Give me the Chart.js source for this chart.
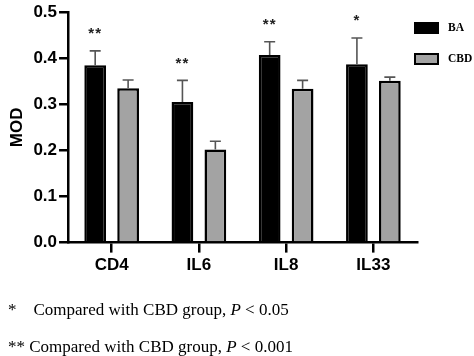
<!DOCTYPE html>
<html>
<head>
<meta charset="utf-8">
<script src="https://cdn.jsdelivr.net/npm/chart.js@4.4.0/dist/chart.umd.min.js"></script>
<style>
  html, body { margin: 0; padding: 0; background: #fff; }
  #wrap { position: relative; width: 474px; height: 356px; overflow: hidden; }
  #chart { position: absolute; left: 0; top: 0; }
  .legend { position: absolute; left: 414px; font-family: 'Liberation Serif', 'Times New Roman', serif; font-weight: bold; font-size: 11.5px; color: #000; }
  .legend .item { position: absolute; left: 0; white-space: nowrap; height: 12px; }
  .legend .box { position: absolute; left: 0; top: 0; width: 25px; height: 12px; box-sizing: border-box; border: 2px solid #000; }
  .legend .lbl { position: absolute; left: 34px; top: -1px; line-height: 13px; }
  .note { position: absolute; left: 8px; font-family: 'Liberation Serif', 'Times New Roman', serif; font-size: 17px; color: #000; white-space: pre; }
</style>
</head>
<body>
<div id="wrap">
  <canvas id="chart" width="474" height="356"></canvas>
  <div class="legend" id="legend"></div>
  <div class="note" id="note1" style="top:300px;"></div>
  <div class="note" id="note2" style="top:337px;"></div>
</div>
<script>
const categories = ['CD4', 'IL6', 'IL8', 'IL33'];
const baValues = [0.385, 0.305, 0.407, 0.387];
const baErrors = [0.031, 0.047, 0.029, 0.057];
const cbdValues = [0.335, 0.202, 0.334, 0.351];
const cbdErrors = [0.018, 0.018, 0.018, 0.008];
const significance = ['**', '**', '**', '*'];
const yTickValues = [0.0, 0.1, 0.2, 0.3, 0.4, 0.5];
const seriesNames = ['BA', 'CBD'];
const seriesColors = ['#000000', '#a3a3a3'];
const yTitle = 'MOD';
const footnote1 = ['*', '    Compared with CBD group, ', 'P', ' < 0.05'];
const footnote2 = ['**', ' Compared with CBD group, ', 'P', ' < 0.001'];

const errorArrays = [baErrors, cbdErrors];

const errorBarPlugin = {
  id: 'errorBars',
  afterDatasetsDraw(chart) {
    const ctx = chart.ctx;
    const y = chart.scales.y;
    ctx.save();
    ctx.strokeStyle = '#555555';
    ctx.lineWidth = 1.6;
    chart.data.datasets.forEach((ds, di) => {
      const meta = chart.getDatasetMeta(di);
      meta.data.forEach((bar, i) => {
        const top = y.getPixelForValue(ds.data[i]);
        const errTop = y.getPixelForValue(ds.data[i] + errorArrays[di][i]);
        ctx.beginPath();
        ctx.moveTo(bar.x, top);
        ctx.lineTo(bar.x, errTop);
        ctx.moveTo(bar.x - 5.5, errTop);
        ctx.lineTo(bar.x + 5.5, errTop);
        ctx.stroke();
      });
    });
    // significance stars above BA bars
    const meta0 = chart.getDatasetMeta(0);
    ctx.fillStyle = '#222';
    ctx.font = 'bold 15px "Liberation Sans", Arial, sans-serif';
    if ('letterSpacing' in ctx) ctx.letterSpacing = '1px';
    ctx.textAlign = 'center';
    ctx.textBaseline = 'middle';
    meta0.data.forEach((bar, i) => {
      const errTop = y.getPixelForValue(baValues[i] + baErrors[i]);
      ctx.fillText(significance[i], bar.x, errTop - 17);
    });
    ctx.restore();
  }
};

const chart = new Chart(document.getElementById('chart'), {
  type: 'bar',
  data: {
    labels: categories,
    datasets: [
      { label: seriesNames[0], data: baValues, backgroundColor: seriesColors[0], borderColor: '#000', borderWidth: 2.5 },
      { label: seriesNames[1], data: cbdValues, backgroundColor: seriesColors[1], borderColor: '#000', borderWidth: 2.5 }
    ]
  },
  options: {
    responsive: false,
    animation: false,
    devicePixelRatio: 1,
    layout: { padding: { left: 7, right: 57, top: 6, bottom: 77 } },
    datasets: { bar: { categoryPercentage: 0.755, barPercentage: 0.66 } },
    plugins: {
      legend: { display: false },
      tooltip: { enabled: false }
    },
    scales: {
      x: {
        grid: { display: true, drawOnChartArea: false, drawTicks: true, tickLength: 10, color: '#000', lineWidth: 2.5, offset: false },
        border: { display: true, color: '#000', width: 2.5 },
        ticks: { color: '#000', font: { family: '"Liberation Sans", Arial, sans-serif', size: 17, weight: 'bold' }, padding: 3 }
      },
      y: {
        min: 0, max: 0.5,
        afterBuildTicks(axis) { axis.ticks = yTickValues.map(v => ({ value: v })); },
        grid: { display: true, drawOnChartArea: false, drawTicks: true, tickLength: 9, color: '#000', lineWidth: 2.5 },
        border: { display: true, color: '#000', width: 2.5 },
        ticks: { color: '#000', font: { family: '"Liberation Sans", Arial, sans-serif', size: 17, weight: 'bold' }, padding: 2,
                 callback: v => Number(v).toFixed(1) },
        title: { display: true, text: yTitle, color: '#000', font: { family: '"Liberation Sans", Arial, sans-serif', size: 17, weight: 'bold' }, padding: { top: 0, bottom: 4 } }
      }
    }
  },
  plugins: [errorBarPlugin]
});

// legend
const legendEl = document.getElementById('legend');
legendEl.style.top = '22px';
seriesNames.forEach((name, i) => {
  const item = document.createElement('div');
  item.className = 'item';
  item.style.top = (i * 31) + 'px';
  item.innerHTML = '<span class="box" style="background:' + seriesColors[i] + '"></span><span class="lbl">' + name + '</span>';
  legendEl.appendChild(item);
});

function fillNote(el, parts) {
  el.innerHTML = '';
  parts.forEach((p, i) => {
    const s = document.createElement('span');
    s.textContent = p;
    if (i === 2) s.style.fontStyle = 'italic';
    el.appendChild(s);
  });
}
fillNote(document.getElementById('note1'), footnote1);
fillNote(document.getElementById('note2'), footnote2);
</script>
</body>
</html>
